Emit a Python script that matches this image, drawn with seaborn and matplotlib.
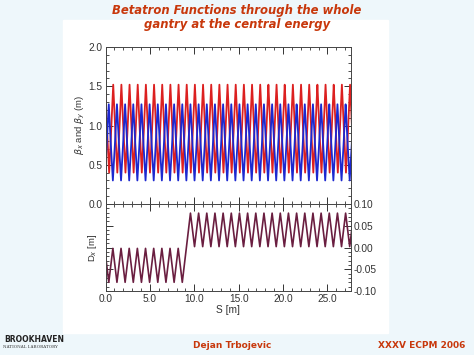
import numpy as np
import pandas as pd
import matplotlib
matplotlib.use("Agg")
import matplotlib.pyplot as plt
from matplotlib.ticker import MultipleLocator, NullFormatter
import seaborn as sns

# --- data ---
cell_len = 0.92          # m, one FODO cell
n_cells = 30
# one half cell, peak -> trough (fraction of half cell)
half_frac = [0.0, 0.25, 0.5, 0.75, 1.0]
beta_red_half = [1.52, 1.22, 0.94, 0.66, 0.40]    # beta_y
beta_blue_half = [1.27, 1.01, 0.76, 0.52, 0.30]   # beta_x
red_peak0 = 0.87     # first red peak position (m)
blue_peak0 = 0.37    # first blue peak position (m)

# dispersion: |D| max at blue peaks, ~0 at red peaks; sign flips after 10 cells
disp_left = [-0.080, -0.002]    # trough, peak (first 10 cells)
disp_right = [0.079, 0.002]     # peak, trough (remaining cells)
n_left = 10

s_max = 27.6


def beta_curve(peak0, half_vals):
    prof_s = np.array(half_frac + [2 - f for f in half_frac[::-1][1:]]) * cell_len / 2
    prof_v = np.array(half_vals + half_vals[::-1][1:])
    s, v = [], []
    for k in range(-1, n_cells + 1):
        s.extend(peak0 + (k * cell_len) + prof_s)
        v.extend(prof_v)
    return pd.DataFrame({"s": s, "beta": v})


red = beta_curve(red_peak0, beta_red_half)
blue = beta_curve(blue_peak0, beta_blue_half)

ds, dv = [], []
for k in range(-1, n_left):
    ds += [blue_peak0 + k * cell_len, blue_peak0 + (k + 0.5) * cell_len]
    dv += disp_left
ds = ds[:-1]; dv = dv[:-1]
for k in range(n_left, n_cells + 1):
    ds += [blue_peak0 + k * cell_len, blue_peak0 + (k + 0.5) * cell_len]
    dv += disp_right
disp = pd.DataFrame({"s": ds, "D": dv})

# --- figure ---
sns.set_style("ticks")
plt.rcParams["font.family"] = ["Liberation Sans", "DejaVu Sans"]

fig = plt.figure(figsize=(4.74, 3.55), dpi=100)
fig.patch.set_facecolor("#eef7fb")
fig.add_artist(plt.Rectangle((63 / 474, 1 - 333 / 355), 325 / 474, 313 / 355,
                             transform=fig.transFigure, color="white", zorder=0))

ax1 = fig.add_axes([105.5 / 474, 1 - 204 / 355, 245 / 474, 157 / 355])
ax2 = fig.add_axes([105.5 / 474, 1 - 291 / 355, 245 / 474, 87 / 355])

sns.lineplot(data=red, x="s", y="beta", ax=ax1, color="#dc2020", lw=1.3,
             sort=False, estimator=None)
sns.lineplot(data=blue, x="s", y="beta", ax=ax1, color="#1c28d0", lw=1.3,
             sort=False, estimator=None)
sns.lineplot(data=disp, x="s", y="D", ax=ax2, color="#6a1e40", lw=1.2,
             sort=False, estimator=None)

for ax in (ax1, ax2):
    ax.set_facecolor("white")
    ax.set_xlim(0, s_max)
    ax.xaxis.set_major_locator(MultipleLocator(5))
    ax.xaxis.set_minor_locator(MultipleLocator(1))
    ax.tick_params(which="both", direction="in", top=True, right=True,
                   colors="#333333", labelsize=7.3, pad=2)
    ax.tick_params(which="major", length=5, width=0.7)
    ax.tick_params(which="minor", length=2.5, width=0.6)
    for sp in ax.spines.values():
        sp.set_color("#444444")
        sp.set_linewidth(0.7)

ax1.set_ylim(0, 2.0)
ax1.yaxis.set_major_locator(MultipleLocator(0.5))
ax1.yaxis.set_minor_locator(MultipleLocator(0.1))
ax1.set_yticks([0.0, 0.5, 1.0, 1.5, 2.0], ["0.0", "0.5", "1.0", "1.5", "2.0"])
ax1.xaxis.set_major_formatter(NullFormatter())
ax1.set_xlabel("")
ax1.set_ylabel(r"$\beta_x$ and $\beta_y$ (m)", fontsize=6.8, labelpad=1,
               color="#333333")

ax2.set_ylim(-0.10, 0.10)
ax2.yaxis.set_major_locator(MultipleLocator(0.05))
ax2.yaxis.set_minor_locator(MultipleLocator(0.01))
ax2.tick_params(axis="y", labelleft=False, labelright=True)
ax2.yaxis.set_major_formatter(plt.FuncFormatter(lambda v, p: f"{v:.2f}"))
ax2.set_xticks([0, 5, 10, 15, 20, 25], ["0.0", "5.0", "10.0", "15.0", "20.0", "25.0"])
ax2.set_xlabel("S [m]", fontsize=7.3, labelpad=1, color="#333333")
ax2.set_ylabel(r"D$_x$ [m]", fontsize=6.8, labelpad=3, color="#333333")

fig.text(0.5, 0.99, "Betatron Functions through the whole\ngantry at the central energy",
         ha="center", va="top", fontsize=8.4, fontweight="bold", fontstyle="italic",
         color="#c8380c", family="DejaVu Sans", linespacing=1.12)

fig.text(232 / 474, 1 - 345 / 355, "Dejan Trbojevic", ha="center", va="center",
         fontsize=6.5, fontweight="bold", color="#c8380c", family="DejaVu Sans")
fig.text(465 / 474, 1 - 345 / 355, "XXXV ECPM 2006", ha="right", va="center",
         fontsize=6.5, fontweight="bold", color="#c8380c", family="DejaVu Sans")
fig.text(4 / 474, 1 - 340 / 355, "BROOKHAVEN", ha="left", va="center",
         fontsize=5.5, fontweight="bold", color="#222222", family="DejaVu Sans")
fig.text(3 / 474, 1 - 346.5 / 355, "NATIONAL LABORATORY", ha="left", va="center",
         fontsize=3, color="#333333", family="DejaVu Serif")

fig.savefig("out.png", dpi=100, facecolor=fig.get_facecolor())
